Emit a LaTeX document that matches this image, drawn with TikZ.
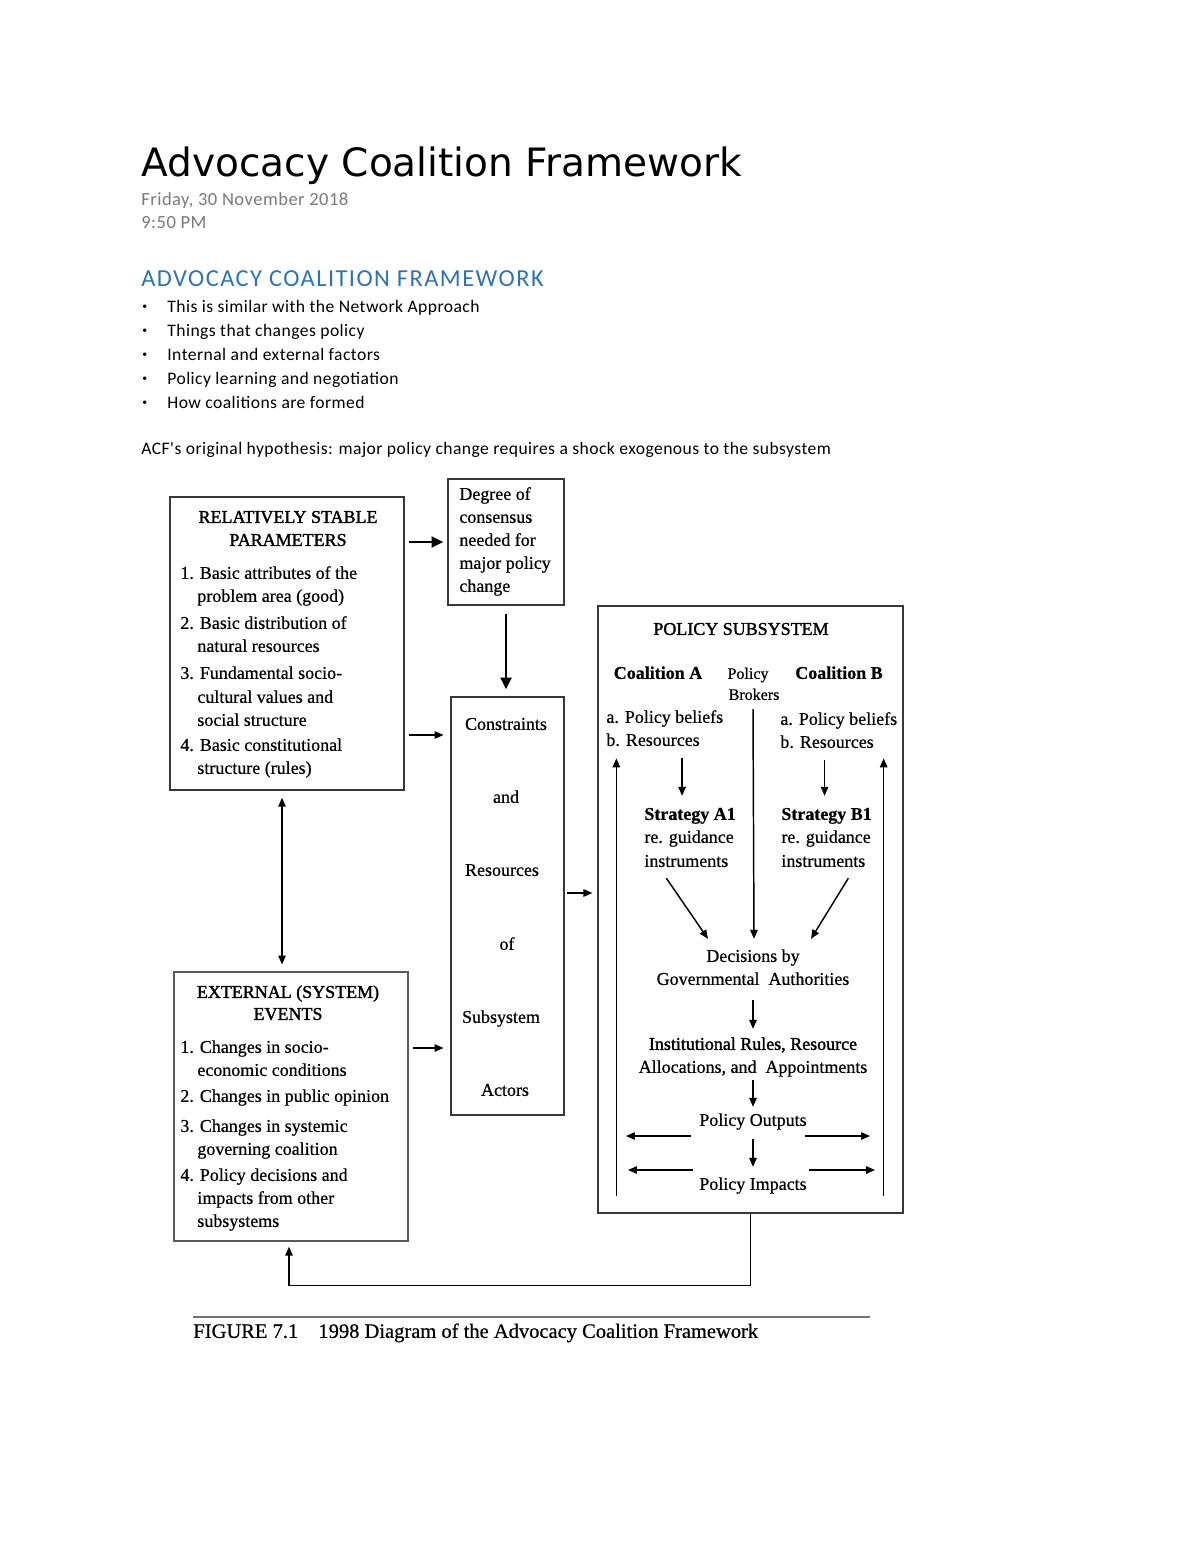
\documentclass[tikz,border=0pt]{standalone}
\usepackage{fontspec}
\setmainfont{Liberation Serif}[RawFeature={embolden=0.6}]
\newfontfamily\dgheavy{Liberation Serif}[RawFeature={embolden=1.6}]
\newfontfamily\calfam{Carlito}[LetterSpace=2.5]
\newfontfamily\headfam{Carlito}[LetterSpace=6]
\newfontfamily\titlefam{DejaVu Sans}
\usetikzlibrary{arrows.meta}
\definecolor{headblue}{HTML}{2E74B5}
\definecolor{dategray}{HTML}{7A7A7A}
\newcommand\dgfont{\fontsize{9.2}{11}\selectfont}
\newcommand\smdgfont{\fontsize{8.2}{10}\selectfont}
\newcommand\hvfont{\dgheavy\fontsize{9.2}{11}\selectfont}
\newcommand\titlefont{\titlefam\fontsize{20}{24}\selectfont}
\newcommand\datefont{\calfam\fontsize{9.5}{11}\selectfont}
\newcommand\headfont{\headfam\fontsize{12.5}{14}\selectfont}
\newcommand\bulfont{\calfam\fontsize{9}{11}\selectfont}
\newcommand\capfont{\fontsize{10.5}{12}\selectfont}
\tikzset{
 box/.style={draw=black!78, line width=0.7pt, inner sep=0, rectangle},
 txt/.style={inner sep=0, text height=0.8em, text depth=0.2em, font=\dgfont},
 lt/.style={txt, anchor=west},
 ct/.style={txt, anchor=center},
 pg/.style={inner sep=0, anchor=base west},
 arr/.style={line width=0.75pt, -{Triangle[length=4.6pt, width=3.8pt]}},
 arrb/.style={line width=1.25pt, -{Triangle[length=6pt, width=5.6pt]}},
}
\begin{document}
\begin{tikzpicture}[x=0.51bp, y={(0,-0.51bp)}]
\useasboundingbox (0,0) rectangle (1200,1553);
\fill[white] (0,0) rectangle (1200,1553);

% ---------- page text ----------
\node[pg, font=\titlefont] (title) at (141,177) {Advocacy Coalition Framework};
\node[pg, font=\datefont, text=dategray] (date) at (141,206) {Friday, 30 November 2018};
\node[pg, font=\datefont, text=dategray] (time) at (141,229) {9:50 PM};
\node[pg, font=\headfont, text=headblue] (head) at (141,287) {ADVOCACY COALITION FRAMEWORK};
\foreach \i/\yy/\t in {1/313/{This is similar with the Network Approach},
  2/337/{Things that changes policy},
  3/361/{Internal and external factors},
  4/385/{Policy learning and negotiation},
  5/409/{How coalitions are formed}}{
  \node[pg, font=\calfam\fontsize{5}{6}\selectfont] (bd\i) at (142,\yy-3) {\textbullet};
  \node[pg, font=\bulfont] (bt\i) at (167,\yy) {\t};
}
\node[pg, font=\bulfont] (hyp) at (141,455) {ACF's original hypothesis: major policy change requires a shock exogenous to the subsystem};

% ---------- boxes ----------
\node[box, minimum width=119.8pt, minimum height=150.0pt] (rsp) at (287,643.5) {};
\node[box, minimum width=59.4pt, minimum height=64.5pt] (deg) at (506,542) {};
\node[box, minimum width=57.8pt, minimum height=214.0pt] (con) at (507.5,906) {};
\node[box, draw=black!65, minimum width=119.8pt, minimum height=137.7pt] (ext) at (291,1106.5) {};
\node[box, minimum width=156.1pt, minimum height=310.7pt] (pss) at (750.5,909.5) {};

% ---------- relatively stable parameters ----------
\node[ct, font=\hvfont] (r0a) at (288,517) {RELATIVELY STABLE};
\node[ct, font=\hvfont] (r0b) at (288,540) {PARAMETERS};
\node[lt] (r1a) at (180,573) {1. Basic attributes of the};
\node[lt] (r1b) at (197,596) {problem area (good)};
\node[lt] (r2a) at (180,623) {2. Basic distribution of};
\node[lt] (r2b) at (197,646) {natural resources};
\node[lt] (r3a) at (180,673) {3. Fundamental socio-};
\node[lt] (r3b) at (197,697) {cultural values and};
\node[lt] (r3c) at (197,720) {social structure};
\node[lt] (r4a) at (180,745) {4. Basic constitutional};
\node[lt] (r4b) at (197,768) {structure (rules)};

% ---------- degree of consensus ----------
\node[lt] (d1) at (459,494) {Degree of};
\node[lt] (d2) at (459,517) {consensus};
\node[lt] (d3) at (459,540) {needed for};
\node[lt] (d4) at (459,563) {major policy};
\node[lt] (d5) at (459,586) {change};

% ---------- constraints ----------
\node[ct] (c1) at (506,724) {Constraints};
\node[ct] (c2) at (506,797) {and};
\node[ct] (c3) at (502,870) {Resources};
\node[ct] (c4) at (507,944) {of};
\node[ct] (c5) at (501,1017) {Subsystem};
\node[ct] (c6) at (505,1090) {Actors};

% ---------- external events ----------
\node[ct, font=\hvfont] (e0a) at (288,992) {EXTERNAL (SYSTEM)};
\node[ct, font=\hvfont] (e0b) at (288,1014) {EVENTS};
\node[lt] (e1a) at (180,1047) {1. Changes in socio-};
\node[lt] (e1b) at (197,1070) {economic conditions};
\node[lt] (e2a) at (180,1096) {2. Changes in public opinion};
\node[lt] (e3a) at (180,1126) {3. Changes in systemic};
\node[lt] (e3b) at (197,1149) {governing coalition};
\node[lt] (e4a) at (180,1175) {4. Policy decisions and};
\node[lt] (e4b) at (197,1198) {impacts from other};
\node[lt] (e4c) at (197,1221) {subsystems};

% ---------- policy subsystem ----------
\node[ct, font=\hvfont] (ps) at (741,629) {POLICY SUBSYSTEM};
\node[ct, font=\dgfont\bfseries] (ca) at (658,673) {Coalition A};
\node[ct, font=\smdgfont] (pb1) at (748,673) {Policy};
\node[ct, font=\smdgfont] (pb2) at (754,694) {Brokers};
\node[ct, font=\dgfont\bfseries] (cb) at (839,673) {Coalition B};
\node[lt] (aa1) at (606,717) {a. Policy beliefs};
\node[lt] (aa2) at (606,740) {b. Resources};
\node[lt] (ba1) at (780,719) {a. Policy beliefs};
\node[lt] (ba2) at (780,742) {b. Resources};
\node[lt, font=\dgfont\bfseries] (sa1) at (644,814) {Strategy A1};
\node[lt] (sa2) at (644,837) {re. guidance};
\node[lt] (sa3) at (644,861) {instruments};
\node[lt, font=\dgfont\bfseries] (sb1) at (781,814) {Strategy B1};
\node[lt] (sb2) at (781,837) {re. guidance};
\node[lt] (sb3) at (781,861) {instruments};
\node[ct] (dec1) at (753,956) {Decisions by};
\node[ct] (dec2) at (753,979) {Governmental\ \ Authorities};
\node[ct, font=\hvfont] (ins1) at (753,1044) {Institutional Rules, Resource};
\node[ct] (ins2) at (753,1067) {Allocations, and\ \ Appointments};
\node[ct] (po) at (753,1120) {Policy Outputs};
\node[ct] (pi) at (753,1184) {Policy Impacts};

% ---------- connectors ----------
\draw[arrb] ([shift={(4,-101.5)}]rsp.east) -- ([shift={(-4,0)}]deg.west);
\draw[arrb] ([shift={(0,8)}]deg.south) -- ([shift={(0,-7)}]deg.south |- con.north);
\draw[arr] ([shift={(4,91.5)}]rsp.east) coordinate (p1) -- ([xshift=-3.5pt]p1 -| con.west);
\draw[arr] ([shift={(4,-58.5)}]ext.east) coordinate (p2) -- ([xshift=-3.5pt]p2 -| con.west);
\draw[arr] ([shift={(2,-13)}]con.east) coordinate (p3) -- ([xshift=-2.5pt]p3 -| pss.west);
\draw[arr, {Triangle[length=4.6pt, width=3.8pt]}-{Triangle[length=4.6pt, width=3.8pt]}]
  ([shift={(-5,7)}]rsp.south) coordinate (p4) -- ([yshift=3.5pt]p4 |- ext.north);

\draw[arr] ([shift={(-1,5)}]pb2.south) -- ([shift={(0,-7)}]pb2.south |- dec1.north);
\draw[arr] ([shift={(-8,8)}]aa2.south -| sa1.north) -- ([shift={(-8,-8)}]sa1.north);
\draw[arr] ([shift={(-2,8)}]ba2.south -| sb1.north) -- ([shift={(-2,-8)}]sb1.north);
\draw[arr] ([shift={(-20,7)}]sa3.south) -- ([shift={(-45,-7)}]dec1.north);
\draw[arr] ([shift={(25,7)}]sb3.south) -- ([shift={(58,-7)}]dec1.north);
\draw[arr] ([shift={(19,-18)}]pss.south west) -- ([shift={(19,153)}]pss.north west);
\draw[arr] ([shift={(-20,-18)}]pss.south east) -- ([shift={(-20,153)}]pss.north east);
\draw[arr] ([shift={(0,11)}]dec2.south) -- ([shift={(0,-5)}]ins1.north);
\draw[arr] ([shift={(0,3)}]ins2.south) -- ([shift={(0,-3)}]po.north);
\draw[arr] ([shift={(0,9)}]po.south) -- ([shift={(0,-7)}]pi.north);
\draw[arr] ([shift={(-8,16)}]po.west) -- ++(-65,0);
\draw[arr] ([shift={(-2,16)}]po.east) -- ++(65,0);
\draw[arr] ([shift={(-6,-14)}]pi.west) -- ++(-65,0);
\draw[arr] ([shift={(2,-14)}]pi.east) -- ++(66,0);
\draw[arr] (pss.south) |- ([shift={(-2,44)}]ext.south) -- ([shift={(-2,5)}]ext.south);

% ---------- caption ----------
\draw[black!55, line width=0.6pt] (193,1317) -- (870,1317);
\node[lt, font=\capfont] (fig) at (193,1332) {FIGURE 7.1};
\node[lt, font=\capfont] (figt) at (318,1332) {1998 Diagram of the Advocacy Coalition Framework};
\end{tikzpicture}
\end{document}
